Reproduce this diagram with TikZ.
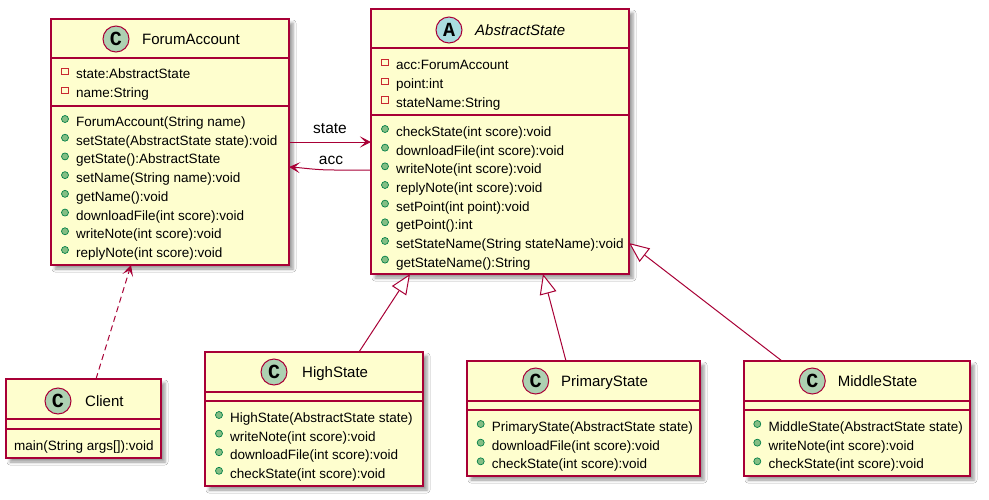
\documentclass[tikz,border=0pt]{standalone}
\usepackage{fontspec}
\setmainfont{Liberation Sans}
\newfontfamily\monob{Liberation Mono}
\usetikzlibrary{arrows.meta,shadows.blur}
\definecolor{umlred}{HTML}{A80036}
\definecolor{umlfill}{HTML}{FEFECE}
\definecolor{cfill}{HTML}{ADD1B2}
\definecolor{afill}{HTML}{A9DCDF}
\definecolor{pubfill}{HTML}{84BE84}
\definecolor{pubdraw}{HTML}{038048}
\definecolor{privdraw}{HTML}{C82930}
\begin{document}
\begin{tikzpicture}[x=1pt,y=-1pt,
  cls/.style={rectangle, draw=umlred, fill=umlfill, line width=1.5pt, inner sep=0pt, outer sep=0pt, anchor=north west,
     blur shadow={shadow xshift=4pt, shadow yshift=-4pt, shadow blur radius=3pt, shadow opacity=40}},
  sepline/.style={draw=umlred, line width=1.5pt},
  mem/.style={anchor=base west, inner sep=0pt, font=\fontsize{13.5}{16}\selectfont},
  ttl/.style={anchor=base west, inner sep=0pt, font=\fontsize{15}{18}\selectfont},
  lbl/.style={inner sep=0pt, font=\fontsize{15.5}{18}\selectfont},
  icon/.style={circle, draw=umlred, line width=1pt, minimum size=26pt, inner sep=0pt, font=\monob\bfseries\fontsize{20}{20}\selectfont},
  pubm/.style={circle, fill=pubfill, draw=pubdraw, line width=0.7pt, minimum size=7pt, inner sep=0pt},
  priv/.style={rectangle, draw=privdraw, line width=0.9pt, minimum size=6.5pt, inner sep=0pt},
  link/.style={draw=umlred, line width=1pt},
  assoc/.style={link, -{Stealth[length=11pt,width=11pt,inset=5.5pt]}},
  inherit/.style={link, -{Triangle[length=20pt,width=17pt,fill=white]}}
]
\fill[white] (0,0) rectangle (989,499);
\useasboundingbox (0,0) rectangle (989,499);

% ---------- ForumAccount ----------
\node[cls, minimum width=238pt, minimum height=246pt] (fa) at (51,19) {};
\draw[sepline] ([yshift=-39pt]fa.north west) -- ([yshift=-39pt]fa.north east);
\draw[sepline] ([yshift=-87pt]fa.north west) -- ([yshift=-87pt]fa.north east);
\node[icon, fill=cfill] (fa-icon) at (116,39) {C};
\node[ttl] (fa-title) at (142,44.5) {ForumAccount};
\foreach \t [count=\i] in {{state:AbstractState},{name:String}} {
  \node[priv] (fa-a\i-icon) at (65,{71.5+(\i-1)*18.7}) {};
  \node[mem] (fa-a\i) at (76,{78.8+(\i-1)*18.7}) {\t};
}
\foreach \t [count=\i] in {{ForumAccount(String name)},{setState(AbstractState state):void},{getState():AbstractState},{setName(String name):void},{getName():void},{downloadFile(int score):void},{writeNote(int score):void},{replyNote(int score):void}} {
  \node[pubm] (fa-m\i-icon) at (65,{119+(\i-1)*18.71}) {};
  \node[mem] (fa-m\i) at (76,{126.5+(\i-1)*18.71}) {\t};
}

% ---------- AbstractState ----------
\node[cls, minimum width=258pt, minimum height=265pt] (as) at (371,9) {};
\draw[sepline] ([yshift=-39pt]as.north west) -- ([yshift=-39pt]as.north east);
\draw[sepline] ([yshift=-106pt]as.north west) -- ([yshift=-106pt]as.north east);
\node[icon, fill=afill] (as-icon) at (449,30) {A};
\node[ttl, font=\fontsize{15}{18}\selectfont\itshape] (as-title) at (475,35.5) {AbstractState};
\foreach \t [count=\i] in {{acc:ForumAccount},{point:int},{stateName:String}} {
  \node[priv] (as-a\i-icon) at (385,{62.5+(\i-1)*18.7}) {};
  \node[mem] (as-a\i) at (396,{69.8+(\i-1)*18.7}) {\t};
}
\foreach \t [count=\i] in {{checkState(int score):void},{downloadFile(int score):void},{writeNote(int score):void},{replyNote(int score):void},{setPoint(int point):void},{getPoint():int},{setStateName(String stateName):void},{getStateName():String}} {
  \node[pubm] (as-m\i-icon) at (385,{129+(\i-1)*18.66}) {};
  \node[mem] (as-m\i) at (396,{136.5+(\i-1)*18.66}) {\t};
}

% ---------- Client ----------
\node[cls, minimum width=155pt, minimum height=79pt] (cl) at (6,379) {};
\draw[sepline] ([yshift=-40pt]cl.north west) -- ([yshift=-40pt]cl.north east);
\draw[sepline] ([yshift=-50pt]cl.north west) -- ([yshift=-50pt]cl.north east);
\node[icon, fill=cfill] (cl-icon) at (58,401) {C};
\node[ttl] (cl-title) at (85,406.5) {Client};
\node[mem] (cl-m1) at (14,450.8) {main(String args[]):void};

% ---------- HighState ----------
\node[cls, minimum width=218pt, minimum height=134pt] (hs) at (205,352) {};
\draw[sepline] ([yshift=-40pt]hs.north west) -- ([yshift=-40pt]hs.north east);
\draw[sepline] ([yshift=-49pt]hs.north west) -- ([yshift=-49pt]hs.north east);
\node[icon, fill=cfill] (hs-icon) at (274,372) {C};
\node[ttl] (hs-title) at (302,377.5) {HighState};
\foreach \t [count=\i] in {{HighState(AbstractState state)},{writeNote(int score):void},{downloadFile(int score):void},{checkState(int score):void}} {
  \node[pubm] (hs-m\i-icon) at (219,{415+(\i-1)*18.6}) {};
  \node[mem] (hs-m\i) at (230,{422.5+(\i-1)*18.6}) {\t};
}

% ---------- PrimaryState ----------
\node[cls, minimum width=233pt, minimum height=115pt] (ps) at (467,361) {};
\draw[sepline] ([yshift=-40pt]ps.north west) -- ([yshift=-40pt]ps.north east);
\draw[sepline] ([yshift=-49pt]ps.north west) -- ([yshift=-49pt]ps.north east);
\node[icon, fill=cfill] (ps-icon) at (535.7,381) {C};
\node[ttl] (ps-title) at (561,386.5) {PrimaryState};
\foreach \t [count=\i] in {{PrimaryState(AbstractState state)},{downloadFile(int score):void},{checkState(int score):void}} {
  \node[pubm] (ps-m\i-icon) at (480.7,{424+(\i-1)*18.66}) {};
  \node[mem] (ps-m\i) at (491.7,{431.5+(\i-1)*18.66}) {\t};
}

% ---------- MiddleState ----------
\node[cls, minimum width=226pt, minimum height=115pt] (ms) at (744,361) {};
\draw[sepline] ([yshift=-40pt]ms.north west) -- ([yshift=-40pt]ms.north east);
\draw[sepline] ([yshift=-49pt]ms.north west) -- ([yshift=-49pt]ms.north east);
\node[icon, fill=cfill] (ms-icon) at (812.3,381) {C};
\node[ttl] (ms-title) at (837.7,386.5) {MiddleState};
\foreach \t [count=\i] in {{MiddleState(AbstractState state)},{writeNote(int score):void},{checkState(int score):void}} {
  \node[pubm] (ms-m\i-icon) at (757.3,{424+(\i-1)*18.66}) {};
  \node[mem] (ms-m\i) at (768.3,{431.5+(\i-1)*18.66}) {\t};
}

% ---------- Connectors ----------
\draw[assoc] ([yshift=-123pt]fa.north east) -- ([yshift=-133pt]as.north west);
\node[lbl] (state-lbl) at (330,129) {state};
\coordinate (acc-mid) at (335,170);
\draw[assoc] ([yshift=-161pt]as.north west) -- (acc-mid) .. controls (315,170) and (305,168) .. ([yshift=-148pt]fa.north east);
\node[lbl] (acc-lbl) at (331,160) {acc};

\draw[assoc, dash pattern=on 6pt off 4pt] ([xshift=90pt]cl.north west) -- ([xshift=80pt]fa.south west);

\draw[inherit] ([xshift=154pt]hs.north west) -- ([xshift=39pt]as.south west);
\draw[inherit] ([xshift=99pt]ps.north west) -- ([xshift=172pt]as.south west);
\draw[inherit] ([xshift=38pt]ms.north west) -- ([yshift=31pt]as.south east);
\end{tikzpicture}
\end{document}
